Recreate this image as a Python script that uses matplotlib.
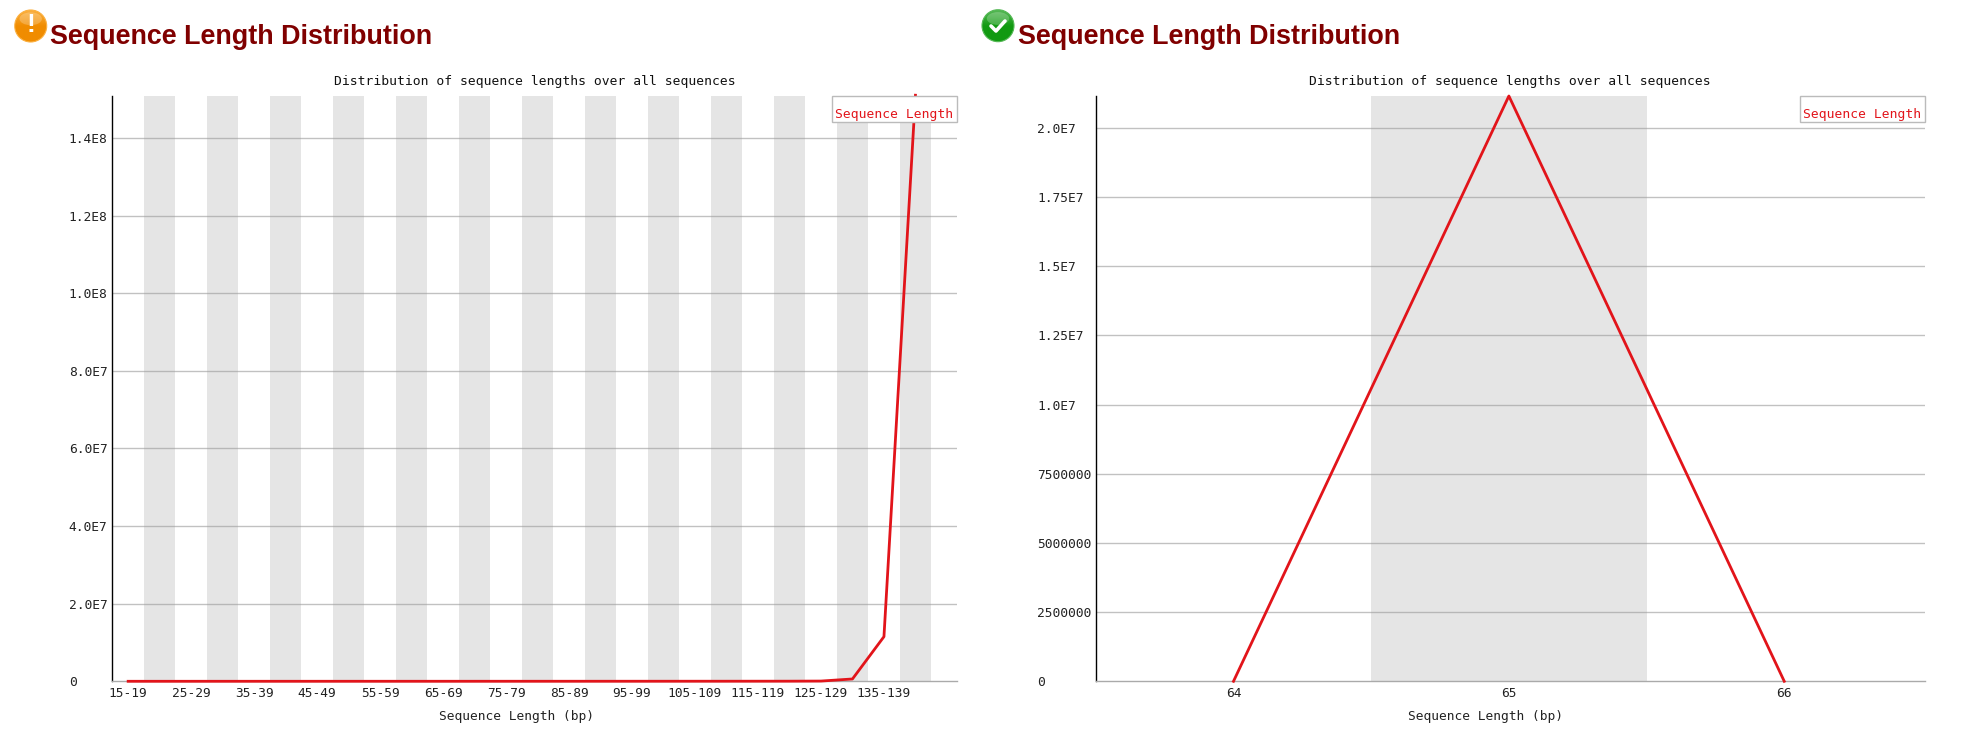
import numpy as np
import matplotlib
matplotlib.use('Agg')
import matplotlib.pyplot as plt
from matplotlib.patches import Circle, Ellipse, Rectangle
from matplotlib.colors import LinearSegmentedColormap

W, H = 1962, 734

# левый график
left_categories = ['15-19', '20-24', '25-29', '30-34', '35-39', '40-44', '45-49', '50-54', '55-59',
                   '60-64', '65-69', '70-74', '75-79', '80-84', '85-89', '90-94', '95-99', '100-104',
                   '105-109', '110-114', '115-119', '120-124', '125-129', '130-134', '135-139', '140-144']
left_values = [2e3, 3e3, 3e3, 4e3, 4e3, 5e3, 5e3, 6e3, 6e3, 7e3, 7e3, 8e3, 9e3, 1e4, 1e4, 1.2e4, 1.3e4,
               1.5e4, 1.8e4, 2e4, 2.5e4, 3e4, 6e4, 6e5, 1.15e7, 1.51e8]
left_yticks = [0, 2e7, 4e7, 6e7, 8e7, 1e8, 1.2e8, 1.4e8]
left_yticklabels = ['0', '2.0E7', '4.0E7', '6.0E7', '8.0E7', '1.0E8', '1.2E8', '1.4E8']

# правый график
right_categories = ['64', '65', '66']
right_values = [0, 2.115e7, 0]
right_yticks = [0, 2.5e6, 5e6, 7.5e6, 1e7, 1.25e7, 1.5e7, 1.75e7, 2e7]
right_yticklabels = ['0', '2500000', '5000000', '7500000', '1.0E7', '1.25E7', '1.5E7', '1.75E7', '2.0E7']

plot_title = 'Distribution of sequence lengths over all sequences'
x_title = 'Sequence Length (bp)'
header = 'Sequence Length Distribution'
series_name = 'Sequence Length'

RED = '#e2141a'
MONO = 'DejaVu Sans Mono'


def draw_plot(box, categories, values, yticks, yticklabels, xmax, ymax, step, ypad, xlabel_pos):
    x0, x1, y0, y1 = box
    w, h = x1 - x0, y1 - y0
    ax = fig.add_axes([x0 / W, 1 - y1 / H, w / W, h / H])
    xs = np.arange(len(categories))
    # серые полосы через одну категорию
    for i in xs[1::2]:
        ax.axvspan(i - 0.5, i + 0.5, color='#e5e5e5', lw=0, zorder=1)
    ax.plot(xs, values, color=RED, lw=2.0, zorder=3, clip_on=False, solid_joinstyle='round')
    ax.set_xlim(-0.5, xmax)
    ax.set_ylim(0, ymax)
    ax.set_xticks(xs[::step])
    ax.set_xticklabels(categories[::step], fontsize=9.3, family=MONO, color='#222222')
    ax.set_yticks(yticks)
    ax.set_yticklabels(yticklabels, fontsize=9.3, family=MONO, color='#222222', ha='left')
    ax.tick_params(axis='x', length=0, pad=4.2)
    ax.tick_params(axis='y', length=0, pad=ypad)
    for v in yticks[1:]:
        ax.axhline(v, color='#999999', alpha=0.6, lw=1.0, zorder=2)
    for s in ['top', 'right']:
        ax.spines[s].set_visible(False)
    ax.spines['left'].set_color('black')
    ax.spines['left'].set_linewidth(1.0)
    ax.spines['bottom'].set_color('#aaaaaa')
    ax.spines['bottom'].set_linewidth(1.0)
    ax.set_title(plot_title, fontsize=9.4, family=MONO, color='#111111', pad=7.8)
    ax.set_xlabel(x_title, fontsize=9.3, family=MONO, color='#222222', x=xlabel_pos, labelpad=7)
    # рамка легенды, текст в ней сидит ниже центра
    ax.add_patch(Rectangle((1 - 125 / w, 1 - 26 / h), 125 / w, 26 / h, transform=ax.transAxes,
                           fc='white', ec='#bbbbbb', lw=1.0, zorder=5, clip_on=False))
    ax.text(1 - 122 / w, 1 - 18.9 / h, series_name, transform=ax.transAxes, color=RED, family=MONO,
            fontsize=9.4, ha='left', va='center', zorder=6)
    return ax


def draw_icon(cx, cy, r, dark, light):
    cmap = LinearSegmentedColormap.from_list('icon', [light, dark, dark])
    grad = np.linspace(0, 1, 64)[:, None]
    im = over.imshow(grad, cmap=cmap, extent=[cx - r, cx + r, cy + r, cy - r], aspect='auto', zorder=1)
    clip = Circle((cx, cy), r, transform=over.transData)
    im.set_clip_path(clip)
    over.add_patch(Circle((cx, cy), r, fill=False, ec=light, lw=0.8, zorder=2))
    over.add_patch(Ellipse((cx, cy - r * 0.45), r * 1.4, r * 0.8, fc='white', alpha=0.22, lw=0, zorder=2))


fig = plt.figure(figsize=(W / 100, H / 100), dpi=100)

draw_plot((112.4, 956.7, 96, 681.3), left_categories, left_values, left_yticks, left_yticklabels,
          26.31, 1.508e8, 2, 31.4, 0.479)
draw_plot((1095.8, 1924.7, 96, 681.3), right_categories, right_values, right_yticks, right_yticklabels,
          2.51, 2.115e7, 1, 42.0, 0.47)

# заголовки и значки
fig.text(50 / W, 1 - 44.5 / H, header, fontsize=19.4, family='Liberation Sans', weight='bold', color='#800000')
fig.text(1018 / W, 1 - 44.5 / H, header, fontsize=19.4, family='Liberation Sans', weight='bold', color='#800000')

over = fig.add_axes([0, 0, 1, 1], facecolor='none')
over.set_xlim(0, W)
over.set_ylim(H, 0)
over.axis('off')
draw_icon(30.7, 26, 16, '#f08c00', '#fbb040')
over.text(30.7, 25.5, '!', color='white', fontsize=19, weight='bold', family='Liberation Sans',
          ha='center', va='center', zorder=3)
draw_icon(998, 25.7, 16, '#119a11', '#55b855')
over.plot([991, 996, 1005], [26, 31, 21], color='white', lw=2.6, zorder=3, solid_capstyle='round')
over.set_xlim(0, W)
over.set_ylim(H, 0)

plt.savefig('out.png', dpi=100)
